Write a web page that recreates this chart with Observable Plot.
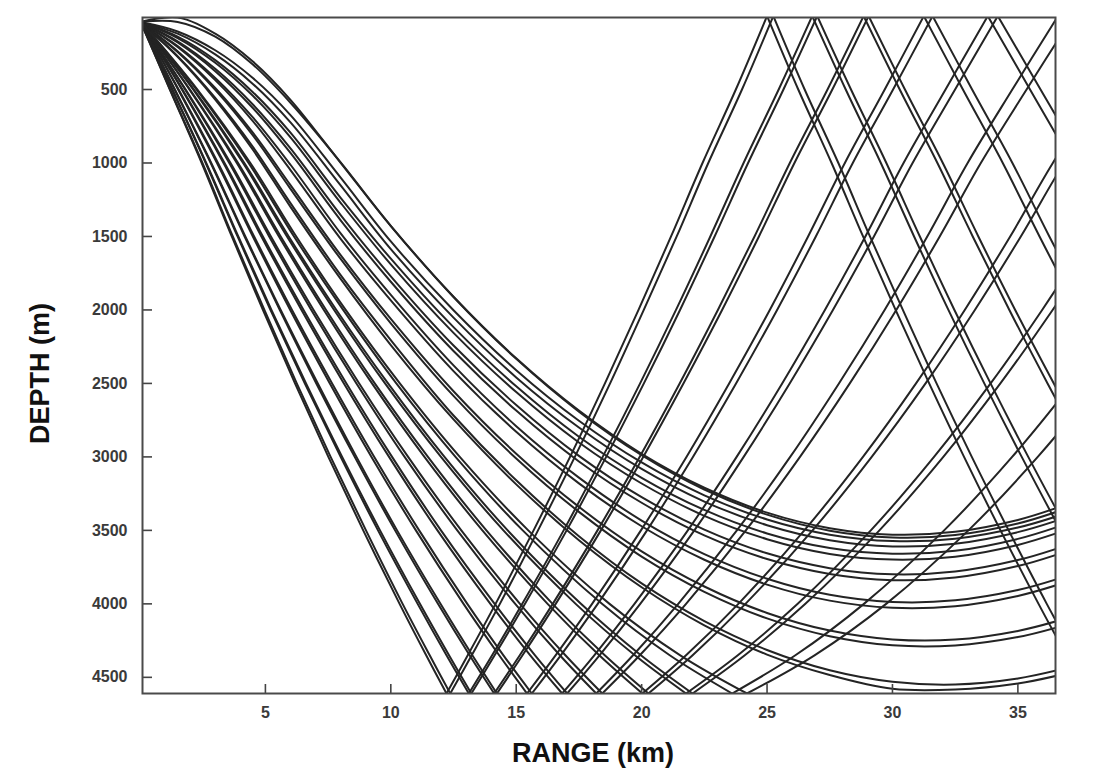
<!DOCTYPE html>
<html>
<head>
<meta charset="utf-8">
<script src="https://cdn.jsdelivr.net/npm/d3@7"></script>
<script src="https://cdn.jsdelivr.net/npm/@observablehq/plot@0.6"></script>
<style>
  html, body { margin: 0; padding: 0; background: #ffffff; }
  #chart { width: 1100px; height: 770px; }
</style>
</head>
<body>
<div id="chart"></div>
<script>
// ---------- axis ticks ----------
const xTicks = [5, 10, 15, 20, 25, 30, 35];
const yTicks = [500, 1000, 1500, 2000, 2500, 3000, 3500, 4000, 4500];

// ---------- refracted rays: depth (m) read at these ranges (km) ----------
const rangeGrid = [0, 1.5, 3, 4.5, 6, 8, 10, 12.5, 15, 17.5, 20, 22.5, 25, 27.5, 30, 32.5, 35, 36.5];
const rayA1  = [40, 10, 120, 310, 570, 999, 1429, 1910, 2329, 2685, 2979, 3210, 3379, 3485, 3529, 3510, 3429, 3350];
const rayA2  = [40, 40, 140, 330, 590, 996, 1428, 1912, 2333, 2692, 2988, 3222, 3393, 3502, 3548, 3532, 3453, 3376];
const rayA3  = [40, 105, 233, 422, 674, 1100, 1534, 2002, 2410, 2754, 3038, 3262, 3426, 3529, 3573, 3557, 3481, 3407];
const rayA4  = [40, 120, 261, 462, 724, 1153, 1586, 2052, 2459, 2800, 3082, 3304, 3465, 3567, 3609, 3591, 3512, 3437];
const rayR2a = [40, 140, 300, 518, 794, 1237, 1651, 2117, 2520, 2863, 3142, 3361, 3521, 3620, 3659, 3639, 3558, 3481];
const rayR2b = [40, 150, 318, 543, 826, 1271, 1690, 2156, 2559, 2902, 3181, 3401, 3560, 3660, 3699, 3679, 3599, 3522];
const rayR3a = [40, 172, 359, 602, 900, 1354, 1771, 2242, 2647, 2993, 3274, 3495, 3656, 3757, 3799, 3780, 3702, 3627];
const rayR3b = [40, 180, 375, 626, 932, 1390, 1808, 2279, 2685, 3031, 3312, 3534, 3695, 3797, 3839, 3821, 3743, 3668];
const rayR4a = [40, 204, 421, 690, 1012, 1479, 1897, 2377, 2791, 3141, 3433, 3661, 3829, 3938, 3987, 3976, 3906, 3835];
const rayR4b = [40, 211, 436, 715, 1048, 1516, 1935, 2416, 2829, 3180, 3472, 3700, 3869, 3978, 4027, 4016, 3946, 3875];
const rayR5a = [40, 239, 490, 794, 1151, 1627, 2061, 2553, 2978, 3340, 3643, 3882, 4062, 4182, 4242, 4243, 4184, 4120];
const rayR5b = [40, 245, 502, 812, 1176, 1653, 2091, 2585, 3011, 3374, 3678, 3918, 4099, 4220, 4282, 4283, 4226, 4163];
const rayR6a = [40, 273, 557, 890, 1273, 1763, 2205, 2718, 3159, 3540, 3861, 4117, 4314, 4452, 4530, 4549, 4508, 4455];
const rayR6b = [40, 278, 568, 910, 1299, 1789, 2239, 2745, 3187, 3567, 3887, 4146, 4345, 4484, 4578, 4583, 4542, 4491];

// ---------- bottom-reflected rays: range (km) read at these depths (m); last = bottom hit ----------
const depthLevels = [30, 500, 1000, 1500, 2000, 2500, 3000, 3500, 4000, 4350, 4610];
const rayB1a = [0, 1.19, 2.46, 3.66, 4.90, 6.18, 7.51, 8.90, 10.35, 11.41, 12.22];
const rayB1b = [0, 1.20, 2.49, 3.70, 4.96, 6.25, 7.60, 9.01, 10.47, 11.55, 12.37];
const rayB2a = [0, 1.28, 2.62, 3.89, 5.20, 6.57, 8.00, 9.49, 11.07, 12.22, 13.11];
const rayB2b = [0, 1.29, 2.64, 3.92, 5.24, 6.62, 8.06, 9.57, 11.16, 12.32, 13.21];
const rayB3a = [0, 1.38, 2.82, 4.17, 5.57, 7.03, 8.56, 10.17, 11.88, 13.14, 14.12];
const rayB3b = [0, 1.39, 2.84, 4.20, 5.61, 7.09, 8.63, 10.25, 11.98, 13.25, 14.23];
const rayB4a = [0, 1.52, 3.07, 4.50, 5.99, 7.57, 9.23, 11.00, 12.90, 14.32, 15.43];
const rayB4b = [0, 1.54, 3.11, 4.55, 6.06, 7.66, 9.34, 11.13, 13.05, 14.49, 15.62];
const rayB5a = [0, 1.67, 3.33, 4.84, 6.44, 8.13, 9.93, 11.86, 13.97, 15.56, 16.83];
const rayB5b = [0, 1.69, 3.37, 4.90, 6.52, 8.23, 10.05, 12.00, 14.14, 15.75, 17.03];
const rayB6a = [0, 1.80, 3.56, 5.15, 6.83, 8.63, 10.55, 12.65, 14.96, 16.74, 18.19];
const rayB6b = [0, 1.82, 3.61, 5.22, 6.92, 8.74, 10.69, 12.81, 15.15, 16.96, 18.43];
const rayB7a = [0, 1.97, 3.86, 5.54, 7.33, 9.25, 11.34, 13.65, 16.25, 18.31, 20.03];
const rayB7b = [0, 1.99, 3.91, 5.61, 7.42, 9.36, 11.48, 13.81, 16.45, 18.53, 20.27];
const rayB8a = [0, 2.12, 4.11, 5.86, 7.74, 9.77, 12.00, 14.49, 17.37, 19.73, 21.77];
const rayB8b = [0, 2.15, 4.16, 5.93, 7.83, 9.89, 12.14, 14.66, 17.58, 19.97, 22.03];
const rayB9a = [0, 2.25, 4.33, 6.14, 8.10, 10.22, 12.58, 15.26, 18.42, 21.12, 23.61];
const rayB9b = [0, 2.29, 4.40, 6.23, 8.20, 10.36, 12.75, 15.48, 18.72, 21.54, 24.20];
// range (km) where each bottom-reflected ray comes back up to the sea surface
const surfaceHit = [25.0, 25.25, 26.8, 27.0, 28.85, 29.05, 31.25, 31.6, 33.8, 34.2, 36.6, 37.2, 40.3, 40.8, 43.8, 44.3, 47.5, 48.7];

// ---------- build the table for Plot ----------
const refracted = [rayA1, rayA2, rayA3, rayA4, rayR2a, rayR2b, rayR3a, rayR3b, rayR4a, rayR4b, rayR5a, rayR5b, rayR6a, rayR6b];
const bottomRays = [rayB1a, rayB1b, rayB2a, rayB2b, rayB3a, rayB3b, rayB4a, rayB4b, rayB5a, rayB5b,
                    rayB6a, rayB6b, rayB7a, rayB7b, rayB8a, rayB8b, rayB9a, rayB9b];

const rows = [];
refracted.forEach((depths, r) => {
  depths.forEach((d, i) => rows.push({seg: "R" + r, range: rangeGrid[i], depth: d}));
});
bottomRays.forEach((xs, r) => {
  const n = depthLevels.length;
  const xb = xs[n - 1];
  const xsurf = surfaceHit[r];
  // descending leg: source -> bottom
  xs.forEach((x, i) => rows.push({seg: "B" + r + "d", range: x, depth: depthLevels[i]}));
  // ascending leg: bottom -> surface (reflected copy of the descending leg)
  const f = (xsurf - xb) / xb;
  const up = [];
  for (let i = n - 1; i >= 1; i--) up.push({range: xb + (xb - xs[i]) * f, depth: depthLevels[i]});
  up.push({range: xsurf, depth: 0});
  up.forEach(p => rows.push({seg: "B" + r + "u", ...p}));
  // descending again after the surface bounce
  for (let i = up.length - 1; i >= 0; i--) {
    rows.push({seg: "B" + r + "s", range: 2 * xsurf - up[i].range, depth: up[i].depth});
  }
});

const chart = Plot.plot({
  width: 1100,
  height: 770,
  marginLeft: 142,
  marginRight: 45,
  marginTop: 17,
  marginBottom: 77,
  style: {
    background: "#ffffff",
    color: "#3a3a3a",
    fontFamily: "'Liberation Sans', Arial, Helvetica, sans-serif",
    fontSize: "16px",
    fontWeight: "bold"
  },
  x: {domain: [0.1, 36.5], ticks: xTicks, tickSize: 0, tickPadding: 13, tickFormat: "d", label: null},
  y: {domain: [10, 4610], reverse: true, ticks: yTicks, tickSize: 0, tickPadding: 15, tickFormat: "d", label: null},
  marks: [
    Plot.line(rows, {
      x: "range", y: "depth", z: "seg",
      curve: "catmull-rom",
      stroke: "#242424", strokeWidth: 2, clip: true
    }),
    Plot.ruleX(xTicks, {x: d => d, insetTop: 667, stroke: "#444", strokeWidth: 1.6}),
    Plot.ruleY(yTicks, {y: d => d, insetRight: 903, stroke: "#444", strokeWidth: 1.6}),
    Plot.frame({stroke: "#4a4a4a", strokeWidth: 2}),
    Plot.text(["RANGE (km)"], {
      frameAnchor: "bottom", dx: -6, dy: 60, text: d => d,
      textAnchor: "middle", lineAnchor: "middle",
      fontSize: 27, fontWeight: 900, fill: "#111",
      fontFamily: "'Liberation Sans', Arial, sans-serif"
    }),
    Plot.text(["DEPTH (m)"], {
      frameAnchor: "left", dx: -102, dy: 18, rotate: -90, text: d => d,
      textAnchor: "middle", lineAnchor: "middle",
      fontSize: 27, fontWeight: 900, fill: "#111",
      fontFamily: "'Liberation Sans', Arial, sans-serif"
    })
  ]
});
document.getElementById("chart").append(chart);
</script>
</body>
</html>
